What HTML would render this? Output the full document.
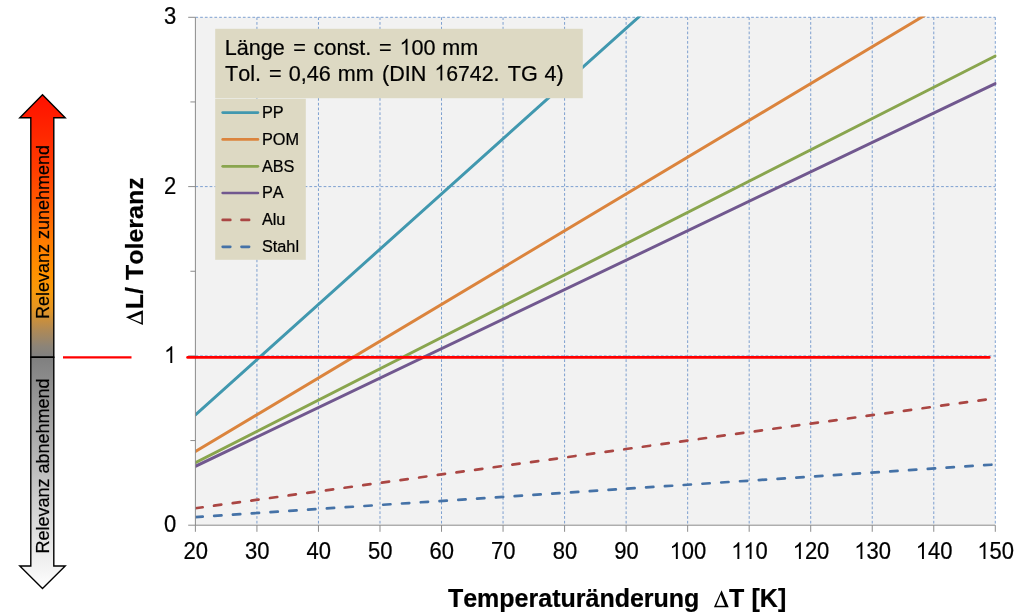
<!DOCTYPE html>
<html><head><meta charset="utf-8"><title>Chart</title>
<style>html,body{margin:0;padding:0;background:#fff}body{width:1024px;height:616px;overflow:hidden}svg{display:block;will-change:transform}text{font-family:"Liberation Sans",sans-serif;fill:#000;font-kerning:none;stroke:#000;stroke-width:0.22px}</style></head><body>
<svg width="1024" height="616" viewBox="0 0 1024 616">
<defs>
<linearGradient id="gu" gradientUnits="userSpaceOnUse" x1="0" y1="95" x2="0" y2="357"><stop offset="0" stop-color="#ff1000"/><stop offset="0.28" stop-color="#ff3c00"/><stop offset="0.55" stop-color="#ff7a00"/><stop offset="0.68" stop-color="#ff9100"/><stop offset="0.75" stop-color="#f89a0c"/><stop offset="0.82" stop-color="#e39524"/><stop offset="0.9" stop-color="#ad8958"/><stop offset="0.96" stop-color="#8c8478"/><stop offset="1" stop-color="#808080"/></linearGradient>
<linearGradient id="gd" gradientUnits="userSpaceOnUse" x1="0" y1="357" x2="0" y2="589"><stop offset="0" stop-color="#7f7f7f"/><stop offset="1" stop-color="#ffffff"/></linearGradient>
<clipPath id="cp"><rect x="195.4" y="16.6" width="801.1" height="510.3"/></clipPath>
</defs>
<rect width="1024" height="616" fill="#fff"/>
<rect x="195.4" y="17.3" width="799.9" height="507.9" fill="#f2f2f2"/>
<path d="M256.93 17.3V525.2M318.46 17.3V525.2M379.99 17.3V525.2M441.52 17.3V525.2M503.05 17.3V525.2M564.58 17.3V525.2M626.12 17.3V525.2M687.65 17.3V525.2M749.18 17.3V525.2M810.71 17.3V525.2M872.24 17.3V525.2M933.77 17.3V525.2M995.30 17.3V525.2M195.4 355.90H995.3M195.4 186.60H995.3M195.4 17.30H995.3" fill="none" stroke="#5f8ac7" stroke-width="0.8" stroke-dasharray="2.7 2.05"/>
<g clip-path="url(#cp)" fill="none" stroke-width="2.95" stroke-linecap="round">
<line x1="195.40" y1="414.79" x2="995.30" y2="-302.90" stroke="#4198AF"/>
<line x1="195.40" y1="451.59" x2="995.30" y2="-26.87" stroke="#DB843D"/>
<line x1="195.40" y1="462.63" x2="995.30" y2="55.94" stroke="#89A54E"/>
<line x1="195.40" y1="466.31" x2="995.30" y2="83.55" stroke="#71588F"/>
<line x1="195.40" y1="508.27" x2="995.30" y2="398.23" stroke="#AA4643" stroke-dasharray="7.3 11.52" stroke-width="2.7"/>
<line x1="195.40" y1="517.10" x2="995.30" y2="464.47" stroke="#4572A7" stroke-dasharray="7.3 11.52" stroke-width="2.7"/>
</g>
<path d="M195.4 17.3V525.2M188.2 525.2H995.3M195.40 525.2v6.6M256.93 525.2v6.6M318.46 525.2v6.6M379.99 525.2v6.6M441.52 525.2v6.6M503.05 525.2v6.6M564.58 525.2v6.6M626.12 525.2v6.6M687.65 525.2v6.6M749.18 525.2v6.6M810.71 525.2v6.6M872.24 525.2v6.6M933.77 525.2v6.6M995.30 525.2v6.6M188.2 355.90h7.2M188.2 186.60h7.2M188.2 17.30h7.2M190.4 440.55h5M190.4 271.25h5M190.4 101.95h5" fill="none" stroke="#868686" stroke-width="0.95"/>
<line x1="187.6" y1="357.4" x2="989.2" y2="357.4" stroke="#ff0000" stroke-width="2.75" stroke-linecap="round"/>
<line x1="63" y1="357.4" x2="131.5" y2="357.4" stroke="#ff0000" stroke-width="2.2"/>
<text transform="translate(183.47,558.90) scale(1,1.055)" font-size="22">20</text>
<text transform="translate(245.00,558.90) scale(1,1.055)" font-size="22">30</text>
<text transform="translate(306.53,558.90) scale(1,1.055)" font-size="22">40</text>
<text transform="translate(368.06,558.90) scale(1,1.055)" font-size="22">50</text>
<text transform="translate(429.59,558.90) scale(1,1.055)" font-size="22">60</text>
<text transform="translate(491.12,558.90) scale(1,1.055)" font-size="22">70</text>
<text transform="translate(552.65,558.90) scale(1,1.055)" font-size="22">80</text>
<text transform="translate(614.18,558.90) scale(1,1.055)" font-size="22">90</text>
<path transform="translate(669.60,558.90) scale(0.01074,-0.01133)" d="M763 0H583V1147Q518 1085 412.5 1023Q307 961 223 930V1104Q374 1175 487 1276Q600 1377 647 1472H763Z"/>
<text transform="translate(681.83,558.90) scale(1,1.055)" font-size="22">00</text>
<path transform="translate(731.13,558.90) scale(0.01074,-0.01133)" d="M763 0H583V1147Q518 1085 412.5 1023Q307 961 223 930V1104Q374 1175 487 1276Q600 1377 647 1472H763Z"/>
<path transform="translate(743.36,558.90) scale(0.01074,-0.01133)" d="M763 0H583V1147Q518 1085 412.5 1023Q307 961 223 930V1104Q374 1175 487 1276Q600 1377 647 1472H763Z"/>
<text transform="translate(755.59,558.90) scale(1,1.055)" font-size="22">0</text>
<path transform="translate(792.66,558.90) scale(0.01074,-0.01133)" d="M763 0H583V1147Q518 1085 412.5 1023Q307 961 223 930V1104Q374 1175 487 1276Q600 1377 647 1472H763Z"/>
<text transform="translate(804.89,558.90) scale(1,1.055)" font-size="22">20</text>
<path transform="translate(854.19,558.90) scale(0.01074,-0.01133)" d="M763 0H583V1147Q518 1085 412.5 1023Q307 961 223 930V1104Q374 1175 487 1276Q600 1377 647 1472H763Z"/>
<text transform="translate(866.42,558.90) scale(1,1.055)" font-size="22">30</text>
<path transform="translate(915.72,558.90) scale(0.01074,-0.01133)" d="M763 0H583V1147Q518 1085 412.5 1023Q307 961 223 930V1104Q374 1175 487 1276Q600 1377 647 1472H763Z"/>
<text transform="translate(927.95,558.90) scale(1,1.055)" font-size="22">40</text>
<path transform="translate(977.25,558.90) scale(0.01074,-0.01133)" d="M763 0H583V1147Q518 1085 412.5 1023Q307 961 223 930V1104Q374 1175 487 1276Q600 1377 647 1472H763Z"/>
<text transform="translate(989.48,558.90) scale(1,1.055)" font-size="22">50</text>
<text transform="translate(164.07,532.20) scale(1,1.06)" font-size="22">0</text>
<path transform="translate(164.07,362.90) scale(0.01074,-0.01139)" d="M763 0H583V1147Q518 1085 412.5 1023Q307 961 223 930V1104Q374 1175 487 1276Q600 1377 647 1472H763Z"/>
<text transform="translate(164.07,193.60) scale(1,1.06)" font-size="22">2</text>
<text transform="translate(164.07,24.30) scale(1,1.06)" font-size="22">3</text>
<rect x="215.2" y="28.8" width="367.6" height="69.4" fill="#DDD9C3"/>
<rect x="215.2" y="98.8" width="90.6" height="161" fill="#DDD9C3"/>
<text transform="translate(224.65,54.70) scale(1,1.02)" font-size="21.6">Länge</text>
<text transform="translate(293.20,54.70) scale(1,1.02)" font-size="21.6">=</text>
<text transform="translate(313.60,54.70) scale(1,1.02)" font-size="21.6">const.</text>
<text transform="translate(379.10,54.70) scale(1,1.02)" font-size="21.6">=</text>
<text transform="translate(442.20,54.70) scale(1,1.02)" font-size="21.6">mm</text>
<text transform="translate(225.10,80.50) scale(1,1.02)" font-size="21.6">Tol.</text>
<text transform="translate(269.00,80.50) scale(1,1.02)" font-size="21.6">=</text>
<text transform="translate(288.75,80.50) scale(1,1.02)" font-size="21.6">0,46</text>
<text transform="translate(337.80,80.50) scale(1,1.02)" font-size="21.6">mm</text>
<text transform="translate(381.95,80.50) scale(1,1.02)" font-size="21.6">(DIN</text>
<text transform="translate(507.70,80.50) scale(1,1.02)" font-size="21.6">TG</text>
<text transform="translate(544.60,80.50) scale(1,1.02)" font-size="21.6">4)</text>
<text transform="translate(447.95,607.30)" font-size="25" font-weight="bold">Temperaturänderung</text>
<text transform="translate(729.05,607.30)" font-size="25" font-weight="bold">T</text>
<text transform="translate(751.50,607.30)" font-size="25" font-weight="bold">[K]</text>
<path transform="translate(399.45,54.70) scale(0.01055,-0.01076)" d="M763 0H583V1147Q518 1085 412.5 1023Q307 961 223 930V1104Q374 1175 487 1276Q600 1377 647 1472H763Z"/>
<text transform="translate(411.46,54.70) scale(1,1.02)" font-size="21.6">00</text>
<path transform="translate(434.35,80.50) scale(0.01039,-0.01075)" d="M763 0H583V1147Q518 1085 412.5 1023Q307 961 223 930V1104Q374 1175 487 1276Q600 1377 647 1472H763Z"/>
<text transform="translate(446.18,80.50) scale(1,1.035)" font-size="21.276">6742.</text>
<path transform="translate(713.9,607.3)" d="M0 0H14.8L7.7 -17ZM2.35 -1.55L6.75 -12.6L11.1 -1.55Z" fill="#000" fill-rule="evenodd"/>
<path transform="translate(142.9,325.0) rotate(-90)" d="M0 0H14.8L7.7 -17ZM2.35 -1.55L6.75 -12.6L11.1 -1.55Z" fill="#000" fill-rule="evenodd"/>
<text transform="translate(142.9,309.2) rotate(-90) scale(1,0.96)" font-size="25" font-weight="bold">L/ Toleranz</text>
<line x1="222.7" y1="112.6" x2="257.9" y2="112.6" stroke="#4198AF" stroke-width="2.7" stroke-linecap="round"/>
<text x="261.9" y="117.8" font-size="16.3">PP</text>
<line x1="222.7" y1="139.4" x2="257.9" y2="139.4" stroke="#DB843D" stroke-width="2.7" stroke-linecap="round"/>
<text x="261.9" y="144.6" font-size="16.3">POM</text>
<line x1="222.7" y1="166.3" x2="257.9" y2="166.3" stroke="#89A54E" stroke-width="2.7" stroke-linecap="round"/>
<text x="261.9" y="171.5" font-size="16.3">ABS</text>
<line x1="222.7" y1="193.0" x2="257.9" y2="193.0" stroke="#71588F" stroke-width="2.7" stroke-linecap="round"/>
<text x="261.9" y="198.2" font-size="16.3">PA</text>
<line x1="222.7" y1="219.9" x2="249.4" y2="219.9" stroke="#AA4643" stroke-width="2.7" stroke-linecap="round" stroke-dasharray="7.6 11.2"/>
<text x="261.9" y="225.1" font-size="16.3">Alu</text>
<line x1="222.7" y1="246.8" x2="249.4" y2="246.8" stroke="#4572A7" stroke-width="2.7" stroke-linecap="round" stroke-dasharray="7.6 11.2"/>
<text x="261.9" y="252.0" font-size="16.3">Stahl</text>
<path d="M42.5 94.8L65.2 117.8H53.8V357.2H30.8V117.8H19.8Z" fill="url(#gu)" stroke="#000" stroke-width="1.4" stroke-linejoin="miter"/>
<path d="M30.8 357.2H53.8V566H65.2L42.5 588.6L19.8 566H30.8Z" fill="url(#gd)" stroke="#000" stroke-width="1.4" stroke-linejoin="miter"/>
<text transform="translate(49.1,319) rotate(-90)" font-size="18">Relevanz zunehmend</text>
<text transform="translate(49.1,553.6) rotate(-90)" font-size="18">Relevanz abnehmend</text>
</svg></body></html>
